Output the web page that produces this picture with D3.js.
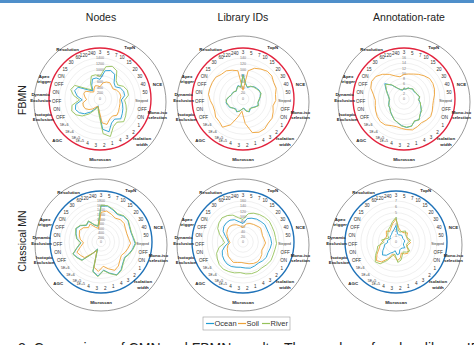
<!DOCTYPE html>
<html>
<head>
<meta charset="utf-8">
<script src="https://cdn.jsdelivr.net/npm/d3@7"></script>
<style>
  body { margin: 0; background: #fff; }
  svg { display: block; font-family: "Liberation Sans", Arial, sans-serif; }
</style>
</head>
<body>
<svg id="fig" width="474" height="345"></svg>
<script>
// ---- data ----
const levels = ["3","5","7","10","15","20","30","40","50","Stepped","OFF","ON","1","2","3","4",
                "1","2","3","4","1E+5","5E+5","1E+6","5E+6","OFF","ON","OFF","ON","OFF","ON",
                "15","30","60","120","240"];
const params = [["TopN"],["NCE"],["Mono-iso","selection"],["Isolation","width"],["Microscan"],
                ["AGC"],["Isotopic","Exclusion"],["Dynamic","Exclusion"],["Apex","trigger"],["Resolution"]];
const columnTitles = ["Nodes","Library IDs","Annotation-rate"];
const rowTitles = ["FBMN","Classical MN"];
const seriesNames = ["Ocean","Soil","River"];

// FBMN - nodes
const nodesFbmnOcean = [670,980,1040,980,730,670,790,850,850,730,790,850,910,980,850,910,1160,1040,430,240,370,550,730,850,910,850,610,790,910,850,490,370,550,730,730];
const nodesFbmnSoil  = [420,560,620,650,600,560,640,700,720,680,700,720,760,800,720,760,900,820,380,260,300,420,520,600,620,600,460,520,580,560,380,320,400,480,460];
const nodesFbmnRiver = [770,1120,1190,1120,840,770,910,980,980,840,910,980,1050,1120,980,1050,1330,1190,490,280,420,630,840,980,1050,980,700,910,1050,980,560,420,630,840,840];
// FBMN - library IDs
const libFbmnOcean = [84,53,42,49,56,59,63,63,59,56,53,56,49,42,42,49,42,31,35,42,49,42,45,53,56,59,56,49,42,42,39,35,42,49,42];
const libFbmnSoil  = [30,98,112,119,126,126,119,119,112,112,105,112,119,119,126,126,119,84,42,63,98,119,112,112,105,105,112,119,119,119,119,112,112,105,98];
const libFbmnRiver = [80,50,44,51,54,57,61,65,60,54,52,58,50,44,40,47,44,33,34,44,47,44,46,51,54,57,58,50,43,40,40,36,40,47,40];
// FBMN - annotation rate
const annFbmnOcean = [4.0,4.0,4.5,4.8,5.1,4.8,5.1,5.6,6.1,5.8,6.4,7.2,8.0,8.8,9.9,9.6,10.9,11.2,10.4,9.6,8.8,8.0,7.2,6.7,6.4,6.1,5.6,6.1,6.7,8.0,9.6,7.2,4.8,4.0,3.5];
const annFbmnSoil  = [9.6,9.9,10.4,11.2,12,12.8,12.8,12.5,12,11.5,11.5,12,12.5,12,11.5,12,12.5,12,11.5,11.2,11.5,12.5,12.8,12.5,12,11.5,11.2,12,13.6,14.4,14.1,12.8,11.2,9.6,8.8];
const annFbmnRiver = [4.2,3.8,4.7,4.6,5.3,5.0,5.3,5.4,6.3,5.6,6.6,7.0,8.3,8.6,10.1,9.4,11.1,11.0,10.6,9.4,9.0,7.8,7.4,6.5,6.6,5.9,5.8,5.9,6.9,7.8,9.2,7.4,5.0,3.8,3.7];
// Classical MN - nodes
const nodesCmnOcean = [1590,1600,1500,1410,1500,1510,1420,1380,1420,1500,1420,1330,1240,1330,1500,1600,1420,1240,1500,1330,340,610,1150,1240,1330,1060,880,1060,1150,1240,1150,970,1060,790,700];
const nodesCmnSoil  = [1300,1380,1300,1220,1300,1300,1220,1190,1220,1300,1220,1150,1070,1150,1300,1380,1220,1070,1300,1150,420,600,1000,1070,1150,920,770,920,1000,1070,1000,840,920,690,610];
const nodesCmnRiver = [1620,1620,1530,1440,1530,1530,1440,1400,1440,1530,1440,1350,1260,1350,1530,1620,1440,1260,1530,1350,360,630,1170,1260,1350,1080,900,1080,1170,1260,1170,990,1080,810,720];
// Classical MN - library IDs
const libCmnOcean = [72,93,99,104,106,109,106,106,109,112,109,106,109,106,102,104,106,102,99,102,106,106,102,96,88,72,56,61,72,88,96,99,99,93,80];
const libCmnSoil  = [56,72,77,80,83,88,83,80,83,88,83,80,88,93,96,93,88,83,80,83,88,83,80,72,67,61,51,56,64,72,77,80,77,72,64];
const libCmnRiver = [88,112,120,125,128,131,128,128,128,131,128,128,131,128,125,128,128,125,120,125,128,131,128,120,112,96,72,80,96,112,120,125,120,112,96];
// Classical MN - annotation rate
const annCmnOcean = [2.8,1.4,1.3,1.4,1.5,1.4,1.3,1.4,1.5,1.4,1.3,1.4,1.8,1.5,1.4,1.5,2.1,2.2,1.5,1.8,2.1,2.8,3.2,2.7,2.2,2.0,1.4,1.5,1.3,1.1,1.3,1.4,1.5,1.8,2.1];
const annCmnSoil  = [3.9,2.5,2.1,2.0,2.1,2.5,2.1,2.0,2.1,2.5,2.1,2.0,2.5,2.8,2.5,2.1,2.8,3.2,2.5,2.1,3.2,4.2,4.6,3.9,3.2,2.8,2.5,2.1,2.0,1.8,2.1,2.5,2.1,2.5,3.2];
const annCmnRiver = [4.2,2.1,1.8,2.1,2.5,2.1,2.0,2.1,2.5,2.1,1.8,2.1,2.8,2.5,2.1,2.5,3.2,3.5,2.1,2.5,3.5,4.6,4.9,4.2,3.5,3.2,2.1,2.5,1.8,1.4,1.8,2.1,2.5,2.8,3.5];

// radial axis ticks per panel
const nodesFbmnTicks = d3.range(0, 1401, 200);
const libFbmnTicks   = d3.range(0, 141, 20);
const annFbmnTicks   = d3.range(0, 17, 2);
const nodesCmnTicks  = d3.range(0, 1801, 200);
const libCmnTicks    = d3.range(0, 161, 20);
const annCmnTicks    = d3.range(0, 8, 1);

// ---- layout ----
const colors = ["#1f9bd1", "#eea236", "#95c25a"];
const ringColors = ["#e2233d", "#1f72b8"];
const paramAngles = [30, 75, 105, 135, 180, 226, 253, 272, 290, 327]; // degrees, label spots
const rPlot = 41, rLevel = 46.5, rRing = 51, rParam = 59.5, rOuter = 66;

const panels = [
  {cx: 100, cy: 99,  ring: 0, ticks: nodesFbmnTicks, series: [nodesFbmnOcean, nodesFbmnSoil, nodesFbmnRiver]},
  {cx: 243, cy: 99,  ring: 0, ticks: libFbmnTicks,   series: [libFbmnOcean, libFbmnSoil, libFbmnRiver]},
  {cx: 404, cy: 99,  ring: 0, ticks: annFbmnTicks,   series: [annFbmnOcean, annFbmnSoil, annFbmnRiver]},
  {cx: 101, cy: 242, ring: 1, ticks: nodesCmnTicks,  series: [nodesCmnOcean, nodesCmnSoil, nodesCmnRiver]},
  {cx: 243, cy: 242, ring: 1, ticks: libCmnTicks,    series: [libCmnOcean, libCmnSoil, libCmnRiver]},
  {cx: 396, cy: 242, ring: 1, ticks: annCmnTicks,    series: [annCmnOcean, annCmnSoil, annCmnRiver]}
];

const svg = d3.select("#fig");
const n = levels.length;
const angle = d3.scaleLinear().domain([0, n]).range([0, 2 * Math.PI]);

// top strip
svg.append("rect").attr("x", 0).attr("y", 0).attr("width", 474).attr("height", 3).attr("fill", "#4f8fca");

// column titles
svg.selectAll(".ctitle").data(columnTitles).enter().append("text")
  .attr("x", (d, i) => [101, 243, 409][i]).attr("y", 21)
  .attr("text-anchor", "middle").style("font-size", "10.5px").attr("fill", "#222")
  .text(d => d);

// row titles
svg.selectAll(".rtitle").data(rowTitles).enter().append("text")
  .attr("transform", (d, i) => `translate(26,${[100, 241][i]}) rotate(-90)`)
  .attr("text-anchor", "middle").style("font-size", "10.5px").attr("fill", "#222")
  .text(d => d);

panels.forEach(p => {
  const g = svg.append("g").attr("transform", `translate(${p.cx},${p.cy})`);
  const maxV = p.ticks[p.ticks.length - 1];
  const r = d3.scaleLinear().domain([0, maxV]).range([0, rPlot]);

  // outer thin ring
  g.append("circle").attr("cx", 0).attr("cy", 3).attr("r", rOuter)
    .attr("fill", "none").attr("stroke", "#555").attr("stroke-width", 0.6);

  // grid
  g.selectAll(".grid").data(p.ticks.slice(1)).enter().append("circle")
    .attr("r", d => r(d)).attr("fill", "none")
    .attr("stroke", "#d8d8d8").attr("stroke-width", 0.4);

  // coloured ring
  g.append("circle").attr("r", rRing).attr("fill", "none")
    .attr("stroke", ringColors[p.ring]).attr("stroke-width", 1.4);

  // radial tick labels along the top spoke
  g.selectAll(".tick").data(p.ticks).enter().append("text")
    .attr("x", 0).attr("y", d => -r(d) + 1.3)
    .attr("text-anchor", "middle").style("font-size", "3.6px").attr("fill", "#777")
    .text(d => d);

  // series
  const line = d3.lineRadial()
    .angle((d, i) => angle(i))
    .radius(d => r(d))
    .curve(d3.curveLinearClosed);
  g.selectAll(".series").data(p.series).enter().append("path")
    .attr("d", d => line(d)).attr("fill", "none")
    .attr("stroke", (d, i) => colors[i]).attr("stroke-width", 0.9)
    .attr("stroke-linejoin", "round");

  // level labels
  g.selectAll(".lvl").data(levels).enter().append("text")
    .each(function(d, i) {
      const a = angle(i);
      const s = Math.sin(a);
      const side = Math.abs(s) > 0.5;
      const rr = side ? rLevel + 1.5 : rLevel;
      const [x, y] = d3.pointRadial(a, rr);
      d3.select(this).attr("x", x).attr("y", y)
        .attr("text-anchor", !side ? "middle" : s > 0 ? "end" : "start");
    })
    .attr("dominant-baseline", "central")
    .style("font-size", d => d === "Stepped" ? "3.4px" : d.includes("E+") ? "3.6px" : "4.6px")
    .attr("fill", "#333")
    .text(d => d);

  // parameter names
  g.selectAll(".param").data(params).enter().append("text")
    .each(function(d, i) {
      const [x, y] = d3.pointRadial(paramAngles[i] * Math.PI / 180, rParam);
      const t = d3.select(this);
      d.forEach((line, k) => {
        t.append("tspan").attr("x", x).attr("y", y + (k - (d.length - 1) / 2) * 5.2).text(line);
      });
    })
    .attr("text-anchor", "middle").attr("dominant-baseline", "central")
    .style("font-size", "4.4px").style("font-weight", 700).attr("fill", "#222");
});

// legend
const lg = svg.append("g").attr("transform", "translate(203,317)");
lg.append("rect").attr("width", 87).attr("height", 13).attr("fill", "#fff")
  .attr("stroke", "#999").attr("stroke-width", 0.6);
const lx = [3, 35, 59];
seriesNames.forEach((s, i) => {
  lg.append("line").attr("x1", lx[i]).attr("x2", lx[i] + 8).attr("y1", 6.5).attr("y2", 6.5)
    .attr("stroke", colors[i]).attr("stroke-width", 1.2);
  lg.append("text").attr("x", lx[i] + 8.5).attr("y", 9.2)
    .style("font-size", "7.5px").attr("fill", "#333").text(s);
});

// caption (cut off at the bottom edge, as in the source)
svg.append("text").attr("x", -6).attr("y", 353)
  .style("font-size", "14px").attr("fill", "#222")
  .text("ure 2. Comparison of CMN and FBMN results. The number of nodes, library IDs and annotation-rate");
</script>
</body>
</html>
